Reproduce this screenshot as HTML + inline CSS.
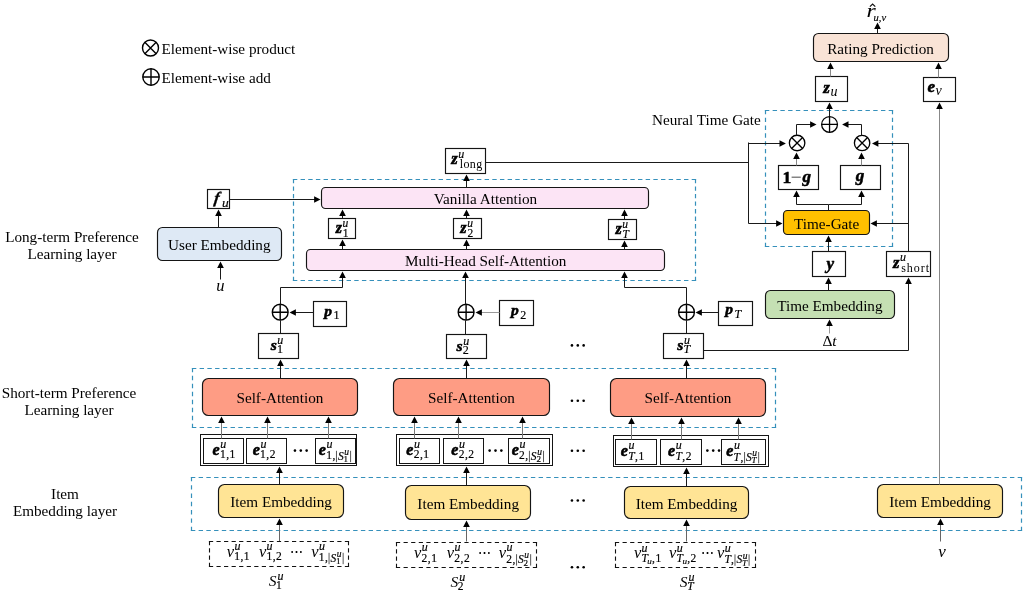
<!DOCTYPE html>
<html><head><meta charset="utf-8"><style>
html,body{margin:0;padding:0;background:#fff;width:1024px;height:592px;overflow:hidden}
svg{display:block;will-change:transform}
text{font-family:"Liberation Serif",serif}
.r{font-style:normal}
.i{font-style:italic}
.bi{font-style:italic;font-weight:bold}
.b{font-weight:bold}
</style></head><body>
<svg width="1024" height="592" viewBox="0 0 1024 592">
<circle cx="150.5" cy="48" r="8" fill="#fff" stroke="#000" stroke-width="1.4"/>
<path d="M144.8432 42.3432L156.1568 53.6568M156.1568 42.3432L144.8432 53.6568" stroke="#000" stroke-width="1.4"/>
<text x="161.60" y="54.00" font-size="15.2" text-anchor="start" class="r" fill="#000">Element-wise product</text>
<circle cx="151" cy="77" r="8.2" fill="#fff" stroke="#000" stroke-width="1.4"/>
<path d="M142.8 77H159.2M151 68.8V85.2" stroke="#000" stroke-width="1.4"/>
<text x="161.60" y="82.70" font-size="15.2" text-anchor="start" class="r" fill="#000">Element-wise add</text>
<text x="72.00" y="241.60" font-size="15.2" text-anchor="middle" class="r" fill="#000">Long-term Preference</text>
<text x="72.00" y="259.00" font-size="15.2" text-anchor="middle" class="r" fill="#000">Learning layer</text>
<text x="69.00" y="397.70" font-size="15.2" text-anchor="middle" class="r" fill="#000">Short-term Preference</text>
<text x="69.00" y="415.00" font-size="15.2" text-anchor="middle" class="r" fill="#000">Learning layer</text>
<text x="65.00" y="499.20" font-size="15.2" text-anchor="middle" class="r" fill="#000">Item</text>
<text x="65.00" y="516.20" font-size="15.2" text-anchor="middle" class="r" fill="#000">Embedding layer</text>
<line x1="292.90" y1="179.50" x2="696.10" y2="179.50" stroke="#3590bb" stroke-width="1.2" stroke-dasharray="4.400 3.269"/>
<line x1="292.90" y1="280.50" x2="696.10" y2="280.50" stroke="#3590bb" stroke-width="1.2" stroke-dasharray="4.400 3.269"/>
<line x1="293.50" y1="178.90" x2="293.50" y2="281.10" stroke="#3590bb" stroke-width="1.2" stroke-dasharray="4.400 3.123"/>
<line x1="695.50" y1="178.90" x2="695.50" y2="281.10" stroke="#3590bb" stroke-width="1.2" stroke-dasharray="4.400 3.123"/>
<line x1="764.90" y1="110.50" x2="893.10" y2="110.50" stroke="#3590bb" stroke-width="1.2" stroke-dasharray="4.400 3.338"/>
<line x1="764.90" y1="246.50" x2="893.10" y2="246.50" stroke="#3590bb" stroke-width="1.2" stroke-dasharray="4.400 3.338"/>
<line x1="765.50" y1="109.90" x2="765.50" y2="247.10" stroke="#3590bb" stroke-width="1.2" stroke-dasharray="4.400 3.412"/>
<line x1="892.50" y1="109.90" x2="892.50" y2="247.10" stroke="#3590bb" stroke-width="1.2" stroke-dasharray="4.400 3.412"/>
<line x1="191.90" y1="368.50" x2="776.10" y2="368.50" stroke="#3590bb" stroke-width="1.2" stroke-dasharray="4.400 3.331"/>
<line x1="191.90" y1="427.50" x2="776.10" y2="427.50" stroke="#3590bb" stroke-width="1.2" stroke-dasharray="4.400 3.331"/>
<line x1="192.50" y1="367.90" x2="192.50" y2="428.10" stroke="#3590bb" stroke-width="1.2" stroke-dasharray="4.400 3.571"/>
<line x1="775.50" y1="367.90" x2="775.50" y2="428.10" stroke="#3590bb" stroke-width="1.2" stroke-dasharray="4.400 3.571"/>
<line x1="190.90" y1="477.50" x2="1022.10" y2="477.50" stroke="#3590bb" stroke-width="1.2" stroke-dasharray="4.400 3.327"/>
<line x1="190.90" y1="530.50" x2="1022.10" y2="530.50" stroke="#3590bb" stroke-width="1.2" stroke-dasharray="4.400 3.327"/>
<line x1="191.50" y1="476.90" x2="191.50" y2="531.10" stroke="#3590bb" stroke-width="1.2" stroke-dasharray="4.400 3.900"/>
<line x1="1021.50" y1="476.90" x2="1021.50" y2="531.10" stroke="#3590bb" stroke-width="1.2" stroke-dasharray="4.400 3.900"/>
<rect x="157.50" y="227.50" width="124.00" height="33.00" rx="5" fill="#dee9f5" stroke="#151515" stroke-width="1.15"/>
<text x="219.30" y="250.20" font-size="15.2" text-anchor="middle" class="r" fill="#000">User Embedding</text>
<polyline points="220.50,279.50 220.50,266.90" fill="none" stroke="#1a1a1a" stroke-width="1.0"/>
<polygon points="220.50,261.50 217.15,267.90 223.85,267.90" fill="#000"/>
<polyline points="218.50,227.50 218.50,214.90" fill="none" stroke="#1a1a1a" stroke-width="1.0"/>
<polygon points="218.50,209.50 215.15,215.90 221.85,215.90" fill="#000"/>
<rect x="207.50" y="189.50" width="22.00" height="19.00" rx="0" fill="#fff" stroke="#151515" stroke-width="1.15"/>
<rect x="321.50" y="187.50" width="327.00" height="21.00" rx="4" fill="#fce4f5" stroke="#151515" stroke-width="1.15"/>
<text x="485.50" y="203.60" font-size="15.2" text-anchor="middle" class="r" fill="#000">Vanilla Attention</text>
<polyline points="229.50,199.50 315.10,199.50" fill="none" stroke="#1a1a1a" stroke-width="1.0"/>
<polygon points="320.50,199.50 314.10,196.15 314.10,202.85" fill="#000"/>
<rect x="306.50" y="249.50" width="358.00" height="21.00" rx="4" fill="#fce4f5" stroke="#151515" stroke-width="1.15"/>
<text x="485.70" y="266.00" font-size="15.2" text-anchor="middle" class="r" fill="#000">Multi-Head Self-Attention</text>
<rect x="445.50" y="148.50" width="40.00" height="25.00" rx="0" fill="#fff" stroke="#151515" stroke-width="1.15"/>
<polyline points="466.50,187.50 466.50,179.90" fill="none" stroke="#1a1a1a" stroke-width="1.0"/>
<polygon points="466.50,174.50 463.15,180.90 469.85,180.90" fill="#000"/>
<rect x="328.50" y="218.50" width="27.00" height="20.00" rx="0" fill="#fff" stroke="#151515" stroke-width="1.15"/>
<polyline points="342.50,218.50 342.50,214.90" fill="none" stroke="#1a1a1a" stroke-width="1.0"/>
<polygon points="342.50,209.50 339.15,215.90 345.85,215.90" fill="#000"/>
<polyline points="342.50,249.50 342.50,244.90" fill="none" stroke="#1a1a1a" stroke-width="1.0"/>
<polygon points="342.50,239.50 339.15,245.90 345.85,245.90" fill="#000"/>
<rect x="453.50" y="218.50" width="28.00" height="20.00" rx="0" fill="#fff" stroke="#151515" stroke-width="1.15"/>
<polyline points="466.50,218.50 466.50,214.90" fill="none" stroke="#1a1a1a" stroke-width="1.0"/>
<polygon points="466.50,209.50 463.15,215.90 469.85,215.90" fill="#000"/>
<polyline points="466.50,249.50 466.50,244.90" fill="none" stroke="#1a1a1a" stroke-width="1.0"/>
<polygon points="466.50,239.50 463.15,245.90 469.85,245.90" fill="#000"/>
<rect x="608.50" y="219.50" width="28.00" height="20.00" rx="0" fill="#fff" stroke="#151515" stroke-width="1.15"/>
<polyline points="624.50,219.50 624.50,214.90" fill="none" stroke="#1a1a1a" stroke-width="1.0"/>
<polygon points="624.50,209.50 621.15,215.90 627.85,215.90" fill="#000"/>
<polyline points="624.50,249.50 624.50,245.90" fill="none" stroke="#1a1a1a" stroke-width="1.0"/>
<polygon points="624.50,240.50 621.15,246.90 627.85,246.90" fill="#000"/>
<polyline points="280.50,333.50 280.50,320.50" fill="none" stroke="#1a1a1a" stroke-width="1.0" stroke-linejoin="miter" stroke-linecap="butt"/>
<circle cx="280.2" cy="312.2" r="7.9" fill="#fff" stroke="#000" stroke-width="1.4"/>
<path d="M272.3 312.2H288.09999999999997M280.2 304.3V320.09999999999997" stroke="#000" stroke-width="1.4"/>
<polyline points="280.50,304.50 280.50,287.50 342.50,287.50 342.50,276.90" fill="none" stroke="#1a1a1a" stroke-width="1.0"/>
<polygon points="342.50,271.50 339.15,277.90 345.85,277.90" fill="#000"/>
<rect x="313.50" y="301.50" width="33.00" height="25.00" rx="0" fill="#fff" stroke="#151515" stroke-width="1.15"/>
<polyline points="313.50,312.50 294.90,312.50" fill="none" stroke="#1a1a1a" stroke-width="1.0"/>
<polygon points="289.50,312.50 295.90,309.15 295.90,315.85" fill="#000"/>
<rect x="258.50" y="333.50" width="40.00" height="25.00" rx="0" fill="#fff" stroke="#151515" stroke-width="1.15"/>
<polyline points="280.50,378.50 280.50,364.90" fill="none" stroke="#1a1a1a" stroke-width="1.0"/>
<polygon points="280.50,359.50 277.15,365.90 283.85,365.90" fill="#000"/>
<polyline points="465.50,334.50 465.50,320.50" fill="none" stroke="#1a1a1a" stroke-width="1.0" stroke-linejoin="miter" stroke-linecap="butt"/>
<circle cx="466.1" cy="312.2" r="7.9" fill="#fff" stroke="#000" stroke-width="1.4"/>
<path d="M458.20000000000005 312.2H474.0M466.1 304.3V320.09999999999997" stroke="#000" stroke-width="1.4"/>
<polyline points="465.50,304.50 465.50,276.90" fill="none" stroke="#1a1a1a" stroke-width="1.0"/>
<polygon points="465.50,271.50 462.15,277.90 468.85,277.90" fill="#000"/>
<rect x="499.50" y="300.50" width="34.00" height="25.00" rx="0" fill="#fff" stroke="#151515" stroke-width="1.15"/>
<polyline points="499.50,312.50 480.90,312.50" fill="none" stroke="#999" stroke-width="1.0"/>
<polygon points="475.50,312.50 481.90,309.15 481.90,315.85" fill="#000"/>
<rect x="446.50" y="334.50" width="40.00" height="24.00" rx="0" fill="#fff" stroke="#151515" stroke-width="1.15"/>
<polyline points="466.50,378.50 466.50,364.90" fill="none" stroke="#1a1a1a" stroke-width="1.0"/>
<polygon points="466.50,359.50 463.15,365.90 469.85,365.90" fill="#000"/>
<polyline points="686.50,333.50 686.50,320.50" fill="none" stroke="#1a1a1a" stroke-width="1.0" stroke-linejoin="miter" stroke-linecap="butt"/>
<circle cx="686.5" cy="312.2" r="7.9" fill="#fff" stroke="#000" stroke-width="1.4"/>
<path d="M678.6 312.2H694.4M686.5 304.3V320.09999999999997" stroke="#000" stroke-width="1.4"/>
<polyline points="686.50,304.50 686.50,287.50 624.50,287.50 624.50,276.90" fill="none" stroke="#1a1a1a" stroke-width="1.0"/>
<polygon points="624.50,271.50 621.15,277.90 627.85,277.90" fill="#000"/>
<rect x="718.50" y="301.50" width="34.00" height="24.00" rx="0" fill="#fff" stroke="#151515" stroke-width="1.15"/>
<polyline points="718.50,312.50 700.90,312.50" fill="none" stroke="#1a1a1a" stroke-width="1.0"/>
<polygon points="695.50,312.50 701.90,309.15 701.90,315.85" fill="#000"/>
<rect x="663.50" y="333.50" width="40.00" height="25.00" rx="0" fill="#fff" stroke="#151515" stroke-width="1.15"/>
<polyline points="686.50,378.50 686.50,364.90" fill="none" stroke="#1a1a1a" stroke-width="1.0"/>
<polygon points="686.50,359.50 683.15,365.90 689.85,365.90" fill="#000"/>
<rect x="202.50" y="378.50" width="155.00" height="37.00" rx="6" fill="#fe9c84" stroke="#151515" stroke-width="1.15"/>
<text x="279.90" y="403.00" font-size="15.2" text-anchor="middle" class="r" fill="#000">Self-Attention</text>
<rect x="393.50" y="378.50" width="156.00" height="37.00" rx="6" fill="#fe9c84" stroke="#151515" stroke-width="1.15"/>
<text x="471.50" y="403.00" font-size="15.2" text-anchor="middle" class="r" fill="#000">Self-Attention</text>
<rect x="610.50" y="378.50" width="155.00" height="38.00" rx="6" fill="#fe9c84" stroke="#151515" stroke-width="1.15"/>
<text x="687.90" y="403.00" font-size="15.2" text-anchor="middle" class="r" fill="#000">Self-Attention</text>
<rect x="200.50" y="434.50" width="156.00" height="31.00" rx="0" fill="#fff" stroke="#151515" stroke-width="1.0"/>
<rect x="203.50" y="438.50" width="40.00" height="25.00" rx="0" fill="#fff" stroke="#151515" stroke-width="1.0"/>
<rect x="246.50" y="438.50" width="40.00" height="25.00" rx="0" fill="#fff" stroke="#151515" stroke-width="1.0"/>
<rect x="315.50" y="438.50" width="40.00" height="25.00" rx="0" fill="#fff" stroke="#151515" stroke-width="1.0"/>
<circle cx="294.95" cy="450.60" r="1.3" fill="#000"/>
<circle cx="300.80" cy="450.60" r="1.3" fill="#000"/>
<circle cx="306.65" cy="450.60" r="1.3" fill="#000"/>
<polyline points="221.50,438.50 221.50,421.90" fill="none" stroke="#777" stroke-width="1.0"/>
<polygon points="221.50,416.50 218.15,422.90 224.85,422.90" fill="#000"/>
<polyline points="267.50,438.50 267.50,421.90" fill="none" stroke="#777" stroke-width="1.0"/>
<polygon points="267.50,416.50 264.15,422.90 270.85,422.90" fill="#000"/>
<polyline points="328.50,438.50 328.50,421.90" fill="none" stroke="#777" stroke-width="1.0"/>
<polygon points="328.50,416.50 325.15,422.90 331.85,422.90" fill="#000"/>
<polyline points="279.50,484.50 279.50,471.90" fill="none" stroke="#1a1a1a" stroke-width="1.0"/>
<polygon points="279.50,466.50 276.15,472.90 282.85,472.90" fill="#000"/>
<rect x="396.50" y="434.50" width="156.00" height="31.00" rx="0" fill="#fff" stroke="#151515" stroke-width="1.0"/>
<rect x="399.50" y="438.50" width="40.00" height="25.00" rx="0" fill="#fff" stroke="#151515" stroke-width="1.0"/>
<rect x="443.50" y="438.50" width="40.00" height="25.00" rx="0" fill="#fff" stroke="#151515" stroke-width="1.0"/>
<rect x="508.50" y="438.50" width="41.00" height="25.00" rx="0" fill="#fff" stroke="#151515" stroke-width="1.0"/>
<circle cx="489.65" cy="450.60" r="1.3" fill="#000"/>
<circle cx="495.50" cy="450.60" r="1.3" fill="#000"/>
<circle cx="501.35" cy="450.60" r="1.3" fill="#000"/>
<polyline points="414.50,438.50 414.50,421.90" fill="none" stroke="#777" stroke-width="1.0"/>
<polygon points="414.50,416.50 411.15,422.90 417.85,422.90" fill="#000"/>
<polyline points="458.50,438.50 458.50,421.90" fill="none" stroke="#777" stroke-width="1.0"/>
<polygon points="458.50,416.50 455.15,422.90 461.85,422.90" fill="#000"/>
<polyline points="522.50,438.50 522.50,421.90" fill="none" stroke="#777" stroke-width="1.0"/>
<polygon points="522.50,416.50 519.15,422.90 525.85,422.90" fill="#000"/>
<polyline points="466.50,485.50 466.50,471.90" fill="none" stroke="#1a1a1a" stroke-width="1.0"/>
<polygon points="466.50,466.50 463.15,472.90 469.85,472.90" fill="#000"/>
<rect x="613.50" y="435.50" width="155.00" height="31.00" rx="0" fill="#fff" stroke="#151515" stroke-width="1.0"/>
<rect x="615.50" y="439.50" width="41.00" height="25.00" rx="0" fill="#fff" stroke="#151515" stroke-width="1.0"/>
<rect x="660.50" y="439.50" width="41.00" height="25.00" rx="0" fill="#fff" stroke="#151515" stroke-width="1.0"/>
<rect x="721.50" y="439.50" width="44.00" height="25.00" rx="0" fill="#fff" stroke="#151515" stroke-width="1.0"/>
<circle cx="707.35" cy="450.60" r="1.3" fill="#000"/>
<circle cx="713.20" cy="450.60" r="1.3" fill="#000"/>
<circle cx="719.05" cy="450.60" r="1.3" fill="#000"/>
<polyline points="631.50,439.50 631.50,422.90" fill="none" stroke="#777" stroke-width="1.0"/>
<polygon points="631.50,417.50 628.15,423.90 634.85,423.90" fill="#000"/>
<polyline points="681.50,439.50 681.50,422.90" fill="none" stroke="#777" stroke-width="1.0"/>
<polygon points="681.50,417.50 678.15,423.90 684.85,423.90" fill="#000"/>
<polyline points="738.50,439.50 738.50,422.90" fill="none" stroke="#777" stroke-width="1.0"/>
<polygon points="738.50,417.50 735.15,423.90 741.85,423.90" fill="#000"/>
<polyline points="686.50,486.50 686.50,472.90" fill="none" stroke="#1a1a1a" stroke-width="1.0"/>
<polygon points="686.50,467.50 683.15,473.90 689.85,473.90" fill="#000"/>
<rect x="218.50" y="484.50" width="125.00" height="33.00" rx="6" fill="#ffe495" stroke="#151515" stroke-width="1.15"/>
<text x="281.15" y="507.40" font-size="15.2" text-anchor="middle" class="r" fill="#000">Item Embedding</text>
<polyline points="279.50,541.50 279.50,523.90" fill="none" stroke="#666" stroke-width="1.0"/>
<polygon points="279.50,518.50 276.15,524.90 282.85,524.90" fill="#000"/>
<rect x="405.50" y="485.50" width="125.00" height="34.00" rx="6" fill="#ffe495" stroke="#151515" stroke-width="1.15"/>
<text x="468.20" y="508.50" font-size="15.2" text-anchor="middle" class="r" fill="#000">Item Embedding</text>
<polyline points="466.50,541.50 466.50,525.90" fill="none" stroke="#666" stroke-width="1.0"/>
<polygon points="466.50,520.50 463.15,526.90 469.85,526.90" fill="#000"/>
<rect x="624.50" y="486.50" width="124.00" height="32.00" rx="6" fill="#ffe495" stroke="#151515" stroke-width="1.15"/>
<text x="686.50" y="509.00" font-size="15.2" text-anchor="middle" class="r" fill="#000">Item Embedding</text>
<polyline points="686.50,541.50 686.50,524.90" fill="none" stroke="#666" stroke-width="1.0"/>
<polygon points="686.50,519.50 683.15,525.90 689.85,525.90" fill="#000"/>
<rect x="877.50" y="484.50" width="125.00" height="33.00" rx="6" fill="#ffe495" stroke="#151515" stroke-width="1.15"/>
<text x="940.05" y="507.30" font-size="15.2" text-anchor="middle" class="r" fill="#000">Item Embedding</text>
<polyline points="940.50,541.50 940.50,523.90" fill="none" stroke="#666" stroke-width="1.0"/>
<polygon points="940.50,518.50 937.15,524.90 943.85,524.90" fill="#000"/>
<line x1="208.95" y1="541.50" x2="349.05" y2="541.50" stroke="#111" stroke-width="1.1" stroke-dasharray="4.200 3.350"/>
<line x1="208.95" y1="566.50" x2="349.05" y2="566.50" stroke="#111" stroke-width="1.1" stroke-dasharray="4.200 3.350"/>
<line x1="209.50" y1="540.95" x2="209.50" y2="567.05" stroke="#111" stroke-width="1.1" stroke-dasharray="4.200 3.100"/>
<line x1="348.50" y1="540.95" x2="348.50" y2="567.05" stroke="#111" stroke-width="1.1" stroke-dasharray="4.200 3.100"/>
<line x1="395.95" y1="542.50" x2="537.05" y2="542.50" stroke="#111" stroke-width="1.1" stroke-dasharray="4.200 3.406"/>
<line x1="395.95" y1="567.50" x2="537.05" y2="567.50" stroke="#111" stroke-width="1.1" stroke-dasharray="4.200 3.406"/>
<line x1="396.50" y1="541.95" x2="396.50" y2="568.05" stroke="#111" stroke-width="1.1" stroke-dasharray="4.200 3.100"/>
<line x1="536.50" y1="541.95" x2="536.50" y2="568.05" stroke="#111" stroke-width="1.1" stroke-dasharray="4.200 3.100"/>
<line x1="614.95" y1="542.50" x2="756.05" y2="542.50" stroke="#111" stroke-width="1.1" stroke-dasharray="4.200 3.406"/>
<line x1="614.95" y1="567.50" x2="756.05" y2="567.50" stroke="#111" stroke-width="1.1" stroke-dasharray="4.200 3.406"/>
<line x1="615.50" y1="541.95" x2="615.50" y2="568.05" stroke="#111" stroke-width="1.1" stroke-dasharray="4.200 3.100"/>
<line x1="755.50" y1="541.95" x2="755.50" y2="568.05" stroke="#111" stroke-width="1.1" stroke-dasharray="4.200 3.100"/>
<text x="941.90" y="556.80" font-size="17" text-anchor="middle" class="i" fill="#000">v</text>
<circle cx="571.95" cy="345.40" r="1.3" fill="#000"/>
<circle cx="577.80" cy="345.40" r="1.3" fill="#000"/>
<circle cx="583.65" cy="345.40" r="1.3" fill="#000"/>
<circle cx="571.95" cy="400.70" r="1.3" fill="#000"/>
<circle cx="577.80" cy="400.70" r="1.3" fill="#000"/>
<circle cx="583.65" cy="400.70" r="1.3" fill="#000"/>
<circle cx="571.95" cy="450.80" r="1.3" fill="#000"/>
<circle cx="577.80" cy="450.80" r="1.3" fill="#000"/>
<circle cx="583.65" cy="450.80" r="1.3" fill="#000"/>
<circle cx="571.95" cy="500.50" r="1.3" fill="#000"/>
<circle cx="577.80" cy="500.50" r="1.3" fill="#000"/>
<circle cx="583.65" cy="500.50" r="1.3" fill="#000"/>
<circle cx="571.95" cy="567.20" r="1.3" fill="#000"/>
<circle cx="577.80" cy="567.20" r="1.3" fill="#000"/>
<circle cx="583.65" cy="567.20" r="1.3" fill="#000"/>
<text x="652.00" y="124.90" font-size="15.2" text-anchor="start" class="r" fill="#000">Neural Time Gate</text>
<rect x="813.50" y="33.50" width="135.00" height="28.00" rx="5" fill="#f9e3d6" stroke="#151515" stroke-width="1.15"/>
<text x="880.50" y="54.00" font-size="15.2" text-anchor="middle" class="r" fill="#000">Rating Prediction</text>
<polyline points="877.50,33.50 877.50,27.90" fill="none" stroke="#1a1a1a" stroke-width="1.0"/>
<polygon points="877.50,22.50 874.15,28.90 880.85,28.90" fill="#000"/>
<rect x="815.50" y="76.50" width="32.00" height="25.00" rx="0" fill="#fff" stroke="#151515" stroke-width="1.15"/>
<polyline points="830.50,76.50 830.50,67.90" fill="none" stroke="#888" stroke-width="1.0"/>
<polygon points="830.50,62.50 827.15,68.90 833.85,68.90" fill="#000"/>
<rect x="923.50" y="77.50" width="32.00" height="24.00" rx="0" fill="#fff" stroke="#151515" stroke-width="1.15"/>
<polyline points="938.50,77.50 938.50,67.90" fill="none" stroke="#888" stroke-width="1.0"/>
<polygon points="938.50,62.50 935.15,68.90 941.85,68.90" fill="#000"/>
<polyline points="939.50,484.50 939.50,107.90" fill="none" stroke="#888" stroke-width="1.0"/>
<polygon points="939.50,102.50 936.15,108.90 942.85,108.90" fill="#000"/>
<polyline points="829.50,116.50 829.50,107.90" fill="none" stroke="#1a1a1a" stroke-width="1.0"/>
<polygon points="829.50,102.50 826.15,108.90 832.85,108.90" fill="#000"/>
<circle cx="829.55" cy="124.45" r="7.9" fill="#fff" stroke="#000" stroke-width="1.3"/>
<path d="M821.65 124.45H837.4499999999999M829.55 116.55V132.35" stroke="#000" stroke-width="1.3"/>
<circle cx="797.1" cy="143" r="7.75" fill="#fff" stroke="#000" stroke-width="1.3"/>
<path d="M791.6199750000001 137.519975L802.580025 148.480025M802.580025 137.519975L791.6199750000001 148.480025" stroke="#000" stroke-width="1.3"/>
<circle cx="862.1" cy="143" r="7.7" fill="#fff" stroke="#000" stroke-width="1.3"/>
<path d="M856.65533 137.55533L867.54467 148.44467M867.54467 137.55533L856.65533 148.44467" stroke="#000" stroke-width="1.3"/>
<polyline points="796.50,135.50 796.50,124.50 811.10,124.50" fill="none" stroke="#1a1a1a" stroke-width="1.0"/>
<polygon points="816.50,124.50 810.10,121.15 810.10,127.85" fill="#000"/>
<polyline points="861.50,135.50 861.50,124.50 847.50,124.50" fill="none" stroke="#1a1a1a" stroke-width="1.0"/>
<polygon points="842.10,124.50 848.50,121.15 848.50,127.85" fill="#000"/>
<rect x="778.50" y="165.50" width="40.00" height="24.00" rx="0" fill="#fff" stroke="#151515" stroke-width="1.15"/>
<rect x="840.50" y="165.50" width="40.00" height="24.00" rx="0" fill="#fff" stroke="#151515" stroke-width="1.15"/>
<polyline points="796.50,165.50 796.50,157.90" fill="none" stroke="#888" stroke-width="1.0"/>
<polygon points="796.50,152.50 793.15,158.90 799.85,158.90" fill="#000"/>
<polyline points="861.50,165.50 861.50,157.90" fill="none" stroke="#888" stroke-width="1.0"/>
<polygon points="861.50,152.50 858.15,158.90 864.85,158.90" fill="#000"/>
<rect x="783.50" y="210.50" width="86.00" height="24.00" rx="4" fill="#ffc000" stroke="#151515" stroke-width="1.15"/>
<text x="826.70" y="228.50" font-size="15.2" text-anchor="middle" class="r" fill="#000">Time-Gate</text>
<polyline points="828.50,210.50 828.50,204.50" fill="none" stroke="#1a1a1a" stroke-width="1.0" stroke-linejoin="miter" stroke-linecap="butt"/>
<polyline points="828.50,204.50 796.50,204.50 796.50,195.90" fill="none" stroke="#1a1a1a" stroke-width="1.0"/>
<polygon points="796.50,190.50 793.15,196.90 799.85,196.90" fill="#000"/>
<polyline points="828.50,204.50 861.50,204.50 861.50,195.90" fill="none" stroke="#1a1a1a" stroke-width="1.0"/>
<polygon points="861.50,190.50 858.15,196.90 864.85,196.90" fill="#000"/>
<polyline points="485.50,162.50 748.50,162.50" fill="none" stroke="#1a1a1a" stroke-width="1.0" stroke-linejoin="miter" stroke-linecap="butt"/>
<polyline points="748.50,143.50 780.50,143.50" fill="none" stroke="#1a1a1a" stroke-width="1.0"/>
<polygon points="785.90,143.50 779.50,140.15 779.50,146.85" fill="#000"/>
<polyline points="748.50,142.50 748.50,223.50" fill="none" stroke="#1a1a1a" stroke-width="1.0" stroke-linejoin="miter" stroke-linecap="butt"/>
<polyline points="748.50,223.50 777.10,223.50" fill="none" stroke="#1a1a1a" stroke-width="1.0"/>
<polygon points="782.50,223.50 776.10,220.15 776.10,226.85" fill="#000"/>
<polyline points="908.50,143.50 877.40,143.50" fill="none" stroke="#1a1a1a" stroke-width="1.0"/>
<polygon points="872.00,143.50 878.40,140.15 878.40,146.85" fill="#000"/>
<polyline points="908.50,143.50 908.50,251.50" fill="none" stroke="#1a1a1a" stroke-width="1.0" stroke-linejoin="miter" stroke-linecap="butt"/>
<polyline points="908.50,223.50 875.90,223.50" fill="none" stroke="#1a1a1a" stroke-width="1.0"/>
<polygon points="870.50,223.50 876.90,220.15 876.90,226.85" fill="#000"/>
<rect x="812.50" y="251.50" width="33.00" height="25.00" rx="0" fill="#fff" stroke="#151515" stroke-width="1.15"/>
<polyline points="828.50,251.50 828.50,240.90" fill="none" stroke="#1a1a1a" stroke-width="1.0"/>
<polygon points="828.50,235.50 825.15,241.90 831.85,241.90" fill="#000"/>
<rect x="886.50" y="251.50" width="44.00" height="25.00" rx="0" fill="#fff" stroke="#151515" stroke-width="1.15"/>
<rect x="765.50" y="290.50" width="129.00" height="28.00" rx="5" fill="#c5e0b3" stroke="#151515" stroke-width="1.15"/>
<text x="829.90" y="311.00" font-size="15.2" text-anchor="middle" class="r" fill="#000">Time Embedding</text>
<polyline points="828.50,290.50 828.50,282.90" fill="none" stroke="#1a1a1a" stroke-width="1.0"/>
<polygon points="828.50,277.50 825.15,283.90 831.85,283.90" fill="#000"/>
<polyline points="829.50,333.50 829.50,324.90" fill="none" stroke="#999" stroke-width="1.0"/>
<polygon points="829.50,319.50 826.15,325.90 832.85,325.90" fill="#000"/>
<polyline points="703.50,350.50 908.50,350.50 908.50,282.90" fill="none" stroke="#1a1a1a" stroke-width="1.0"/>
<polygon points="908.50,277.50 905.15,283.90 911.85,283.90" fill="#000"/>
<text transform="translate(866.4,16.8) scale(1.25,1)" x="0" y="0" font-size="19" class="i" fill="#000">r</text>
<text x="873.60" y="20.60" font-size="10.5" text-anchor="start" class="i" fill="#000" stroke="#000" stroke-width="0.18">u,v</text>
<path d="M869.9 6.6L872.6 4.0L875.3 6.6" fill="none" stroke="#111" stroke-width="1.2"/>
<text x="823.30" y="93.00" font-size="17" text-anchor="start" class="bi" fill="#000" stroke="#000" stroke-width="0.55">z</text>
<text x="830.52" y="96.20" font-size="14" text-anchor="start" class="i" fill="#000">u</text>
<text x="927.60" y="91.80" font-size="17" text-anchor="start" class="bi" fill="#000" stroke="#000" stroke-width="0.55">e</text>
<text x="935.55" y="94.80" font-size="14" text-anchor="start" class="i" fill="#000">v</text>
<text x="782.60" y="182.80" font-size="17.5" text-anchor="start" class="b" fill="#000" stroke="#000" stroke-width="0.55">1</text>
<rect x="791.6" y="176.6" width="9.2" height="1.2" fill="#666"/>
<text x="802.60" y="182.00" font-size="17" text-anchor="start" class="bi" fill="#000" stroke="#000" stroke-width="0.55">g</text>
<text x="855.80" y="180.60" font-size="17" text-anchor="start" class="bi" fill="#000" stroke="#000" stroke-width="0.55">g</text>
<text x="826.60" y="269.00" font-size="17" text-anchor="start" class="bi" fill="#000" stroke="#000" stroke-width="0.55">y</text>
<text x="893.10" y="268.20" font-size="16.5" text-anchor="start" class="bi" fill="#000" stroke="#000" stroke-width="0.55">z</text>
<text x="900.12" y="261.20" font-size="12" text-anchor="start" class="i" fill="#000" stroke="#000" stroke-width="0.18">u</text>
<text x="901.2" y="271.8" font-size="12" class="r" fill="#000" textLength="28" lengthAdjust="spacing">short</text>
<text x="822.40" y="346.20" font-size="15.5" text-anchor="start" class="r" fill="#000">Δ</text>
<text x="832.20" y="346.20" font-size="15.5" text-anchor="start" class="i" fill="#000">t</text>
<text transform="translate(213.6,203.2) skewX(-8)" x="0" y="0" font-size="16" class="bi" fill="#000" stroke="#000" stroke-width="0.35">f</text>
<text x="222.00" y="206.80" font-size="13.5" text-anchor="start" class="i" fill="#000" stroke="#000" stroke-width="0.18">u</text>
<text x="451.30" y="164.20" font-size="16.5" text-anchor="start" class="bi" fill="#000" stroke="#000" stroke-width="0.55">z</text>
<text x="458.32" y="157.60" font-size="12" text-anchor="start" class="i" fill="#000" stroke="#000" stroke-width="0.18">u</text>
<text x="459.8" y="168.2" font-size="12" class="r" fill="#000" textLength="22.4" lengthAdjust="spacing">long</text>
<text x="220.30" y="290.80" font-size="16.5" text-anchor="middle" class="i" fill="#000">u</text>
<text x="335.70" y="232.60" font-size="16" text-anchor="start" class="bi" fill="#000" stroke="#000" stroke-width="0.55">z</text>
<text x="342.53" y="227.20" font-size="11.5" text-anchor="start" class="i" fill="#000" stroke="#000" stroke-width="0.18">u</text>
<text x="342.83" y="236.90" font-size="11.5" text-anchor="start" class="r" fill="#000" stroke="#000" stroke-width="0.18">1</text>
<text x="460.30" y="232.60" font-size="16" text-anchor="start" class="bi" fill="#000" stroke="#000" stroke-width="0.55">z</text>
<text x="467.13" y="227.20" font-size="11.5" text-anchor="start" class="i" fill="#000" stroke="#000" stroke-width="0.18">u</text>
<text x="467.43" y="236.90" font-size="11.5" text-anchor="start" class="r" fill="#000" stroke="#000" stroke-width="0.18">2</text>
<text x="615.40" y="233.60" font-size="16" text-anchor="start" class="bi" fill="#000" stroke="#000" stroke-width="0.55">z</text>
<text x="622.23" y="228.20" font-size="11.5" text-anchor="start" class="i" fill="#000" stroke="#000" stroke-width="0.18">u</text>
<text x="622.53" y="237.90" font-size="11.5" text-anchor="start" class="i" fill="#000" stroke="#000" stroke-width="0.18">T</text>
<text x="270.70" y="349.50" font-size="15.5" text-anchor="start" class="bi" fill="#000" stroke="#000" stroke-width="0.55">s</text>
<text x="277.33" y="343.50" font-size="12" text-anchor="start" class="i" fill="#000" stroke="#000" stroke-width="0.18">u</text>
<text x="276.93" y="352.50" font-size="12" text-anchor="start" class="r" fill="#000" stroke="#000" stroke-width="0.18">1</text>
<text x="456.50" y="350.60" font-size="15.5" text-anchor="start" class="bi" fill="#000" stroke="#000" stroke-width="0.55">s</text>
<text x="463.13" y="344.60" font-size="12" text-anchor="start" class="i" fill="#000" stroke="#000" stroke-width="0.18">u</text>
<text x="462.73" y="353.60" font-size="12" text-anchor="start" class="r" fill="#000" stroke="#000" stroke-width="0.18">2</text>
<text x="677.30" y="349.50" font-size="15.5" text-anchor="start" class="bi" fill="#000" stroke="#000" stroke-width="0.55">s</text>
<text x="683.93" y="343.50" font-size="12" text-anchor="start" class="i" fill="#000" stroke="#000" stroke-width="0.18">u</text>
<text x="683.53" y="352.50" font-size="12" text-anchor="start" class="i" fill="#000" stroke="#000" stroke-width="0.18">T</text>
<text x="324.20" y="315.80" font-size="15.5" text-anchor="start" class="bi" fill="#000" stroke="#000" stroke-width="0.55">p</text>
<text x="333.45" y="319.20" font-size="12" text-anchor="start" class="r" fill="#000" stroke="#000" stroke-width="0.18">1</text>
<text x="511.00" y="315.40" font-size="15.5" text-anchor="start" class="bi" fill="#000" stroke="#000" stroke-width="0.55">p</text>
<text x="520.25" y="318.80" font-size="12" text-anchor="start" class="r" fill="#000" stroke="#000" stroke-width="0.18">2</text>
<text x="725.20" y="314.40" font-size="15.5" text-anchor="start" class="bi" fill="#000" stroke="#000" stroke-width="0.55">p</text>
<text x="734.45" y="317.80" font-size="12" text-anchor="start" class="i" fill="#000" stroke="#000" stroke-width="0.18">T</text>
<text x="212.50" y="454.60" font-size="16" text-anchor="start" class="bi" fill="#000" stroke="#000" stroke-width="0.55">e</text>
<text x="220.20" y="447.80" font-size="12" text-anchor="start" class="i" fill="#000" stroke="#000" stroke-width="0.18">u</text>
<text x="219.90" y="458.40" font-size="11.5" text-anchor="start" class="r" fill="#000" stroke="#000" stroke-width="0.18">1</text>
<text x="226.15" y="458.40" font-size="11.5" text-anchor="start" class="r" fill="#000" stroke="#000" stroke-width="0.18">,</text>
<text x="229.53" y="458.40" font-size="11.5" text-anchor="start" class="r" fill="#000" stroke="#000" stroke-width="0.18">1</text>
<text x="252.70" y="454.60" font-size="16" text-anchor="start" class="bi" fill="#000" stroke="#000" stroke-width="0.55">e</text>
<text x="260.40" y="447.80" font-size="12" text-anchor="start" class="i" fill="#000" stroke="#000" stroke-width="0.18">u</text>
<text x="260.10" y="458.40" font-size="11.5" text-anchor="start" class="r" fill="#000" stroke="#000" stroke-width="0.18">1</text>
<text x="266.35" y="458.40" font-size="11.5" text-anchor="start" class="r" fill="#000" stroke="#000" stroke-width="0.18">,</text>
<text x="269.73" y="458.40" font-size="11.5" text-anchor="start" class="r" fill="#000" stroke="#000" stroke-width="0.18">2</text>
<text x="318.75" y="454.60" font-size="16" text-anchor="start" class="bi" fill="#000" stroke="#000" stroke-width="0.55">e</text>
<text x="326.45" y="447.80" font-size="12" text-anchor="start" class="i" fill="#000" stroke="#000" stroke-width="0.18">u</text>
<text x="326.15" y="459.40" font-size="11.5" text-anchor="start" class="r" fill="#000" stroke="#000" stroke-width="0.18">1</text>
<text x="332.40" y="459.40" font-size="11.5" text-anchor="start" class="r" fill="#000" stroke="#000" stroke-width="0.18">,</text>
<line x1="336.48" y1="450.80" x2="336.48" y2="462.20" stroke="#222" stroke-width="0.75"/>
<text x="337.88" y="459.80" font-size="11.5" text-anchor="start" class="i" fill="#000" stroke="#000" stroke-width="0.18">S</text>
<text x="344.23" y="455.00" font-size="9.5" text-anchor="start" class="i" fill="#000" stroke="#000" stroke-width="0.18">u</text>
<text x="343.53" y="462.20" font-size="9" text-anchor="start" class="r" fill="#000" stroke="#000" stroke-width="0.18">1</text>
<line x1="350.58" y1="450.80" x2="350.58" y2="462.20" stroke="#222" stroke-width="0.75"/>
<text x="406.30" y="454.60" font-size="16" text-anchor="start" class="bi" fill="#000" stroke="#000" stroke-width="0.55">e</text>
<text x="414.00" y="447.80" font-size="12" text-anchor="start" class="i" fill="#000" stroke="#000" stroke-width="0.18">u</text>
<text x="413.70" y="458.40" font-size="11.5" text-anchor="start" class="r" fill="#000" stroke="#000" stroke-width="0.18">2</text>
<text x="419.95" y="458.40" font-size="11.5" text-anchor="start" class="r" fill="#000" stroke="#000" stroke-width="0.18">,</text>
<text x="423.33" y="458.40" font-size="11.5" text-anchor="start" class="r" fill="#000" stroke="#000" stroke-width="0.18">1</text>
<text x="451.30" y="454.60" font-size="16" text-anchor="start" class="bi" fill="#000" stroke="#000" stroke-width="0.55">e</text>
<text x="459.00" y="447.80" font-size="12" text-anchor="start" class="i" fill="#000" stroke="#000" stroke-width="0.18">u</text>
<text x="458.70" y="458.40" font-size="11.5" text-anchor="start" class="r" fill="#000" stroke="#000" stroke-width="0.18">2</text>
<text x="464.95" y="458.40" font-size="11.5" text-anchor="start" class="r" fill="#000" stroke="#000" stroke-width="0.18">,</text>
<text x="468.33" y="458.40" font-size="11.5" text-anchor="start" class="r" fill="#000" stroke="#000" stroke-width="0.18">2</text>
<text x="511.70" y="454.60" font-size="16" text-anchor="start" class="bi" fill="#000" stroke="#000" stroke-width="0.55">e</text>
<text x="519.40" y="447.80" font-size="12" text-anchor="start" class="i" fill="#000" stroke="#000" stroke-width="0.18">u</text>
<text x="519.10" y="459.40" font-size="11.5" text-anchor="start" class="r" fill="#000" stroke="#000" stroke-width="0.18">2</text>
<text x="525.35" y="459.40" font-size="11.5" text-anchor="start" class="r" fill="#000" stroke="#000" stroke-width="0.18">,</text>
<line x1="529.43" y1="450.80" x2="529.43" y2="462.20" stroke="#222" stroke-width="0.75"/>
<text x="530.83" y="459.80" font-size="11.5" text-anchor="start" class="i" fill="#000" stroke="#000" stroke-width="0.18">S</text>
<text x="537.18" y="455.00" font-size="9.5" text-anchor="start" class="i" fill="#000" stroke="#000" stroke-width="0.18">u</text>
<text x="536.48" y="462.20" font-size="9" text-anchor="start" class="r" fill="#000" stroke="#000" stroke-width="0.18">2</text>
<line x1="543.53" y1="450.80" x2="543.53" y2="462.20" stroke="#222" stroke-width="0.75"/>
<text x="620.80" y="455.80" font-size="16" text-anchor="start" class="bi" fill="#000" stroke="#000" stroke-width="0.55">e</text>
<text x="628.50" y="449.00" font-size="12" text-anchor="start" class="i" fill="#000" stroke="#000" stroke-width="0.18">u</text>
<text x="628.20" y="459.60" font-size="11.5" text-anchor="start" class="i" fill="#000" stroke="#000" stroke-width="0.18">T</text>
<text x="635.10" y="459.60" font-size="11.5" text-anchor="start" class="r" fill="#000" stroke="#000" stroke-width="0.18">,</text>
<text x="638.47" y="459.60" font-size="11.5" text-anchor="start" class="r" fill="#000" stroke="#000" stroke-width="0.18">1</text>
<text x="668.00" y="455.80" font-size="16" text-anchor="start" class="bi" fill="#000" stroke="#000" stroke-width="0.55">e</text>
<text x="675.70" y="449.00" font-size="12" text-anchor="start" class="i" fill="#000" stroke="#000" stroke-width="0.18">u</text>
<text x="675.40" y="459.60" font-size="11.5" text-anchor="start" class="i" fill="#000" stroke="#000" stroke-width="0.18">T</text>
<text x="682.30" y="459.60" font-size="11.5" text-anchor="start" class="r" fill="#000" stroke="#000" stroke-width="0.18">,</text>
<text x="685.67" y="459.60" font-size="11.5" text-anchor="start" class="r" fill="#000" stroke="#000" stroke-width="0.18">2</text>
<text x="726.20" y="455.80" font-size="16" text-anchor="start" class="bi" fill="#000" stroke="#000" stroke-width="0.55">e</text>
<text x="733.90" y="449.00" font-size="12" text-anchor="start" class="i" fill="#000" stroke="#000" stroke-width="0.18">u</text>
<text x="733.60" y="460.60" font-size="11.5" text-anchor="start" class="i" fill="#000" stroke="#000" stroke-width="0.18">T</text>
<text x="740.50" y="460.60" font-size="11.5" text-anchor="start" class="r" fill="#000" stroke="#000" stroke-width="0.18">,</text>
<line x1="744.57" y1="452.00" x2="744.57" y2="463.40" stroke="#222" stroke-width="0.75"/>
<text x="745.97" y="461.00" font-size="11.5" text-anchor="start" class="i" fill="#000" stroke="#000" stroke-width="0.18">S</text>
<text x="752.32" y="456.20" font-size="9.5" text-anchor="start" class="i" fill="#000" stroke="#000" stroke-width="0.18">u</text>
<text x="751.62" y="463.40" font-size="9" text-anchor="start" class="i" fill="#000" stroke="#000" stroke-width="0.18">T</text>
<line x1="758.67" y1="452.00" x2="758.67" y2="463.40" stroke="#222" stroke-width="0.75"/>
<text x="226.70" y="556.60" font-size="16.5" text-anchor="start" class="i" fill="#000">v</text>
<text x="234.42" y="550.00" font-size="12" text-anchor="start" class="i" fill="#000" stroke="#000" stroke-width="0.18">u</text>
<text x="234.22" y="560.40" font-size="11.5" text-anchor="start" class="r" fill="#000" stroke="#000" stroke-width="0.18">1</text>
<text x="240.47" y="560.40" font-size="11.5" text-anchor="start" class="r" fill="#000" stroke="#000" stroke-width="0.18">,</text>
<text x="243.85" y="560.40" font-size="11.5" text-anchor="start" class="r" fill="#000" stroke="#000" stroke-width="0.18">1</text>
<text x="258.90" y="556.60" font-size="16.5" text-anchor="start" class="i" fill="#000">v</text>
<text x="266.62" y="550.00" font-size="12" text-anchor="start" class="i" fill="#000" stroke="#000" stroke-width="0.18">u</text>
<text x="266.42" y="560.40" font-size="11.5" text-anchor="start" class="r" fill="#000" stroke="#000" stroke-width="0.18">1</text>
<text x="272.67" y="560.40" font-size="11.5" text-anchor="start" class="r" fill="#000" stroke="#000" stroke-width="0.18">,</text>
<text x="276.05" y="560.40" font-size="11.5" text-anchor="start" class="r" fill="#000" stroke="#000" stroke-width="0.18">2</text>
<text x="311.20" y="556.60" font-size="16.5" text-anchor="start" class="i" fill="#000">v</text>
<text x="318.92" y="550.00" font-size="12" text-anchor="start" class="i" fill="#000" stroke="#000" stroke-width="0.18">u</text>
<text x="318.72" y="561.40" font-size="11.5" text-anchor="start" class="r" fill="#000" stroke="#000" stroke-width="0.18">1</text>
<text x="324.97" y="561.40" font-size="11.5" text-anchor="start" class="r" fill="#000" stroke="#000" stroke-width="0.18">,</text>
<line x1="329.05" y1="552.80" x2="329.05" y2="564.20" stroke="#222" stroke-width="0.75"/>
<text x="330.45" y="561.80" font-size="11.5" text-anchor="start" class="i" fill="#000" stroke="#000" stroke-width="0.18">S</text>
<text x="336.80" y="557.00" font-size="9.5" text-anchor="start" class="i" fill="#000" stroke="#000" stroke-width="0.18">u</text>
<text x="336.10" y="564.20" font-size="9" text-anchor="start" class="r" fill="#000" stroke="#000" stroke-width="0.18">1</text>
<line x1="343.15" y1="552.80" x2="343.15" y2="564.20" stroke="#222" stroke-width="0.75"/>
<text x="296.00" y="555.60" font-size="13" text-anchor="middle" class="r" fill="#000" stroke="#000" stroke-width="0.18">⋯</text>
<text x="414.00" y="558.00" font-size="16.5" text-anchor="start" class="i" fill="#000">v</text>
<text x="421.72" y="551.40" font-size="12" text-anchor="start" class="i" fill="#000" stroke="#000" stroke-width="0.18">u</text>
<text x="421.52" y="561.80" font-size="11.5" text-anchor="start" class="r" fill="#000" stroke="#000" stroke-width="0.18">2</text>
<text x="427.77" y="561.80" font-size="11.5" text-anchor="start" class="r" fill="#000" stroke="#000" stroke-width="0.18">,</text>
<text x="431.15" y="561.80" font-size="11.5" text-anchor="start" class="r" fill="#000" stroke="#000" stroke-width="0.18">1</text>
<text x="446.80" y="558.00" font-size="16.5" text-anchor="start" class="i" fill="#000">v</text>
<text x="454.52" y="551.40" font-size="12" text-anchor="start" class="i" fill="#000" stroke="#000" stroke-width="0.18">u</text>
<text x="454.32" y="561.80" font-size="11.5" text-anchor="start" class="r" fill="#000" stroke="#000" stroke-width="0.18">2</text>
<text x="460.57" y="561.80" font-size="11.5" text-anchor="start" class="r" fill="#000" stroke="#000" stroke-width="0.18">,</text>
<text x="463.95" y="561.80" font-size="11.5" text-anchor="start" class="r" fill="#000" stroke="#000" stroke-width="0.18">2</text>
<text x="498.70" y="558.00" font-size="16.5" text-anchor="start" class="i" fill="#000">v</text>
<text x="506.42" y="551.40" font-size="12" text-anchor="start" class="i" fill="#000" stroke="#000" stroke-width="0.18">u</text>
<text x="506.22" y="562.80" font-size="11.5" text-anchor="start" class="r" fill="#000" stroke="#000" stroke-width="0.18">2</text>
<text x="512.47" y="562.80" font-size="11.5" text-anchor="start" class="r" fill="#000" stroke="#000" stroke-width="0.18">,</text>
<line x1="516.55" y1="554.20" x2="516.55" y2="565.60" stroke="#222" stroke-width="0.75"/>
<text x="517.95" y="563.20" font-size="11.5" text-anchor="start" class="i" fill="#000" stroke="#000" stroke-width="0.18">S</text>
<text x="524.30" y="558.40" font-size="9.5" text-anchor="start" class="i" fill="#000" stroke="#000" stroke-width="0.18">u</text>
<text x="523.60" y="565.60" font-size="9" text-anchor="start" class="r" fill="#000" stroke="#000" stroke-width="0.18">2</text>
<line x1="530.65" y1="554.20" x2="530.65" y2="565.60" stroke="#222" stroke-width="0.75"/>
<text x="484.00" y="557.40" font-size="13" text-anchor="middle" class="r" fill="#000" stroke="#000" stroke-width="0.18">⋯</text>
<text x="633.90" y="558.20" font-size="16.5" text-anchor="start" class="i" fill="#000">v</text>
<text x="641.62" y="551.60" font-size="12" text-anchor="start" class="i" fill="#000" stroke="#000" stroke-width="0.18">u</text>
<text x="641.42" y="562.00" font-size="11.5" text-anchor="start" class="i" fill="#000" stroke="#000" stroke-width="0.18">T</text>
<text x="647.32" y="564.20" font-size="9" text-anchor="start" class="i" fill="#000" stroke="#000" stroke-width="0.18">u</text>
<text x="652.02" y="562.00" font-size="11.5" text-anchor="start" class="r" fill="#000" stroke="#000" stroke-width="0.18">,</text>
<text x="655.39" y="562.00" font-size="11.5" text-anchor="start" class="r" fill="#000" stroke="#000" stroke-width="0.18">1</text>
<text x="669.10" y="558.20" font-size="16.5" text-anchor="start" class="i" fill="#000">v</text>
<text x="676.82" y="551.60" font-size="12" text-anchor="start" class="i" fill="#000" stroke="#000" stroke-width="0.18">u</text>
<text x="676.62" y="562.00" font-size="11.5" text-anchor="start" class="i" fill="#000" stroke="#000" stroke-width="0.18">T</text>
<text x="682.52" y="564.20" font-size="9" text-anchor="start" class="i" fill="#000" stroke="#000" stroke-width="0.18">u</text>
<text x="687.22" y="562.00" font-size="11.5" text-anchor="start" class="r" fill="#000" stroke="#000" stroke-width="0.18">,</text>
<text x="690.59" y="562.00" font-size="11.5" text-anchor="start" class="r" fill="#000" stroke="#000" stroke-width="0.18">2</text>
<text x="717.00" y="558.20" font-size="16.5" text-anchor="start" class="i" fill="#000">v</text>
<text x="724.72" y="551.60" font-size="12" text-anchor="start" class="i" fill="#000" stroke="#000" stroke-width="0.18">u</text>
<text x="724.52" y="563.00" font-size="11.5" text-anchor="start" class="i" fill="#000" stroke="#000" stroke-width="0.18">T</text>
<text x="730.92" y="563.00" font-size="11.5" text-anchor="start" class="r" fill="#000" stroke="#000" stroke-width="0.18">,</text>
<line x1="734.99" y1="554.40" x2="734.99" y2="565.80" stroke="#222" stroke-width="0.75"/>
<text x="736.39" y="563.40" font-size="11.5" text-anchor="start" class="i" fill="#000" stroke="#000" stroke-width="0.18">S</text>
<text x="742.74" y="558.60" font-size="9.5" text-anchor="start" class="i" fill="#000" stroke="#000" stroke-width="0.18">u</text>
<text x="742.04" y="565.80" font-size="9" text-anchor="start" class="i" fill="#000" stroke="#000" stroke-width="0.18">T</text>
<line x1="749.09" y1="554.40" x2="749.09" y2="565.80" stroke="#222" stroke-width="0.75"/>
<text x="707.50" y="557.40" font-size="13" text-anchor="middle" class="r" fill="#000" stroke="#000" stroke-width="0.18">⋯</text>
<text x="268.70" y="585.50" font-size="15.5" text-anchor="start" class="i" fill="#000">S</text>
<text x="277.45" y="579.70" font-size="12" text-anchor="start" class="i" fill="#000" stroke="#000" stroke-width="0.18">u</text>
<text x="276.05" y="589.10" font-size="11.5" text-anchor="start" class="r" fill="#000" stroke="#000" stroke-width="0.18">1</text>
<text x="450.50" y="586.50" font-size="15.5" text-anchor="start" class="i" fill="#000">S</text>
<text x="459.25" y="580.70" font-size="12" text-anchor="start" class="i" fill="#000" stroke="#000" stroke-width="0.18">u</text>
<text x="457.85" y="590.10" font-size="11.5" text-anchor="start" class="r" fill="#000" stroke="#000" stroke-width="0.18">2</text>
<text x="679.80" y="586.50" font-size="15.5" text-anchor="start" class="i" fill="#000">S</text>
<text x="688.55" y="580.70" font-size="12" text-anchor="start" class="i" fill="#000" stroke="#000" stroke-width="0.18">u</text>
<text x="687.15" y="590.10" font-size="11.5" text-anchor="start" class="i" fill="#000" stroke="#000" stroke-width="0.18">T</text>
</svg>
</body></html>
